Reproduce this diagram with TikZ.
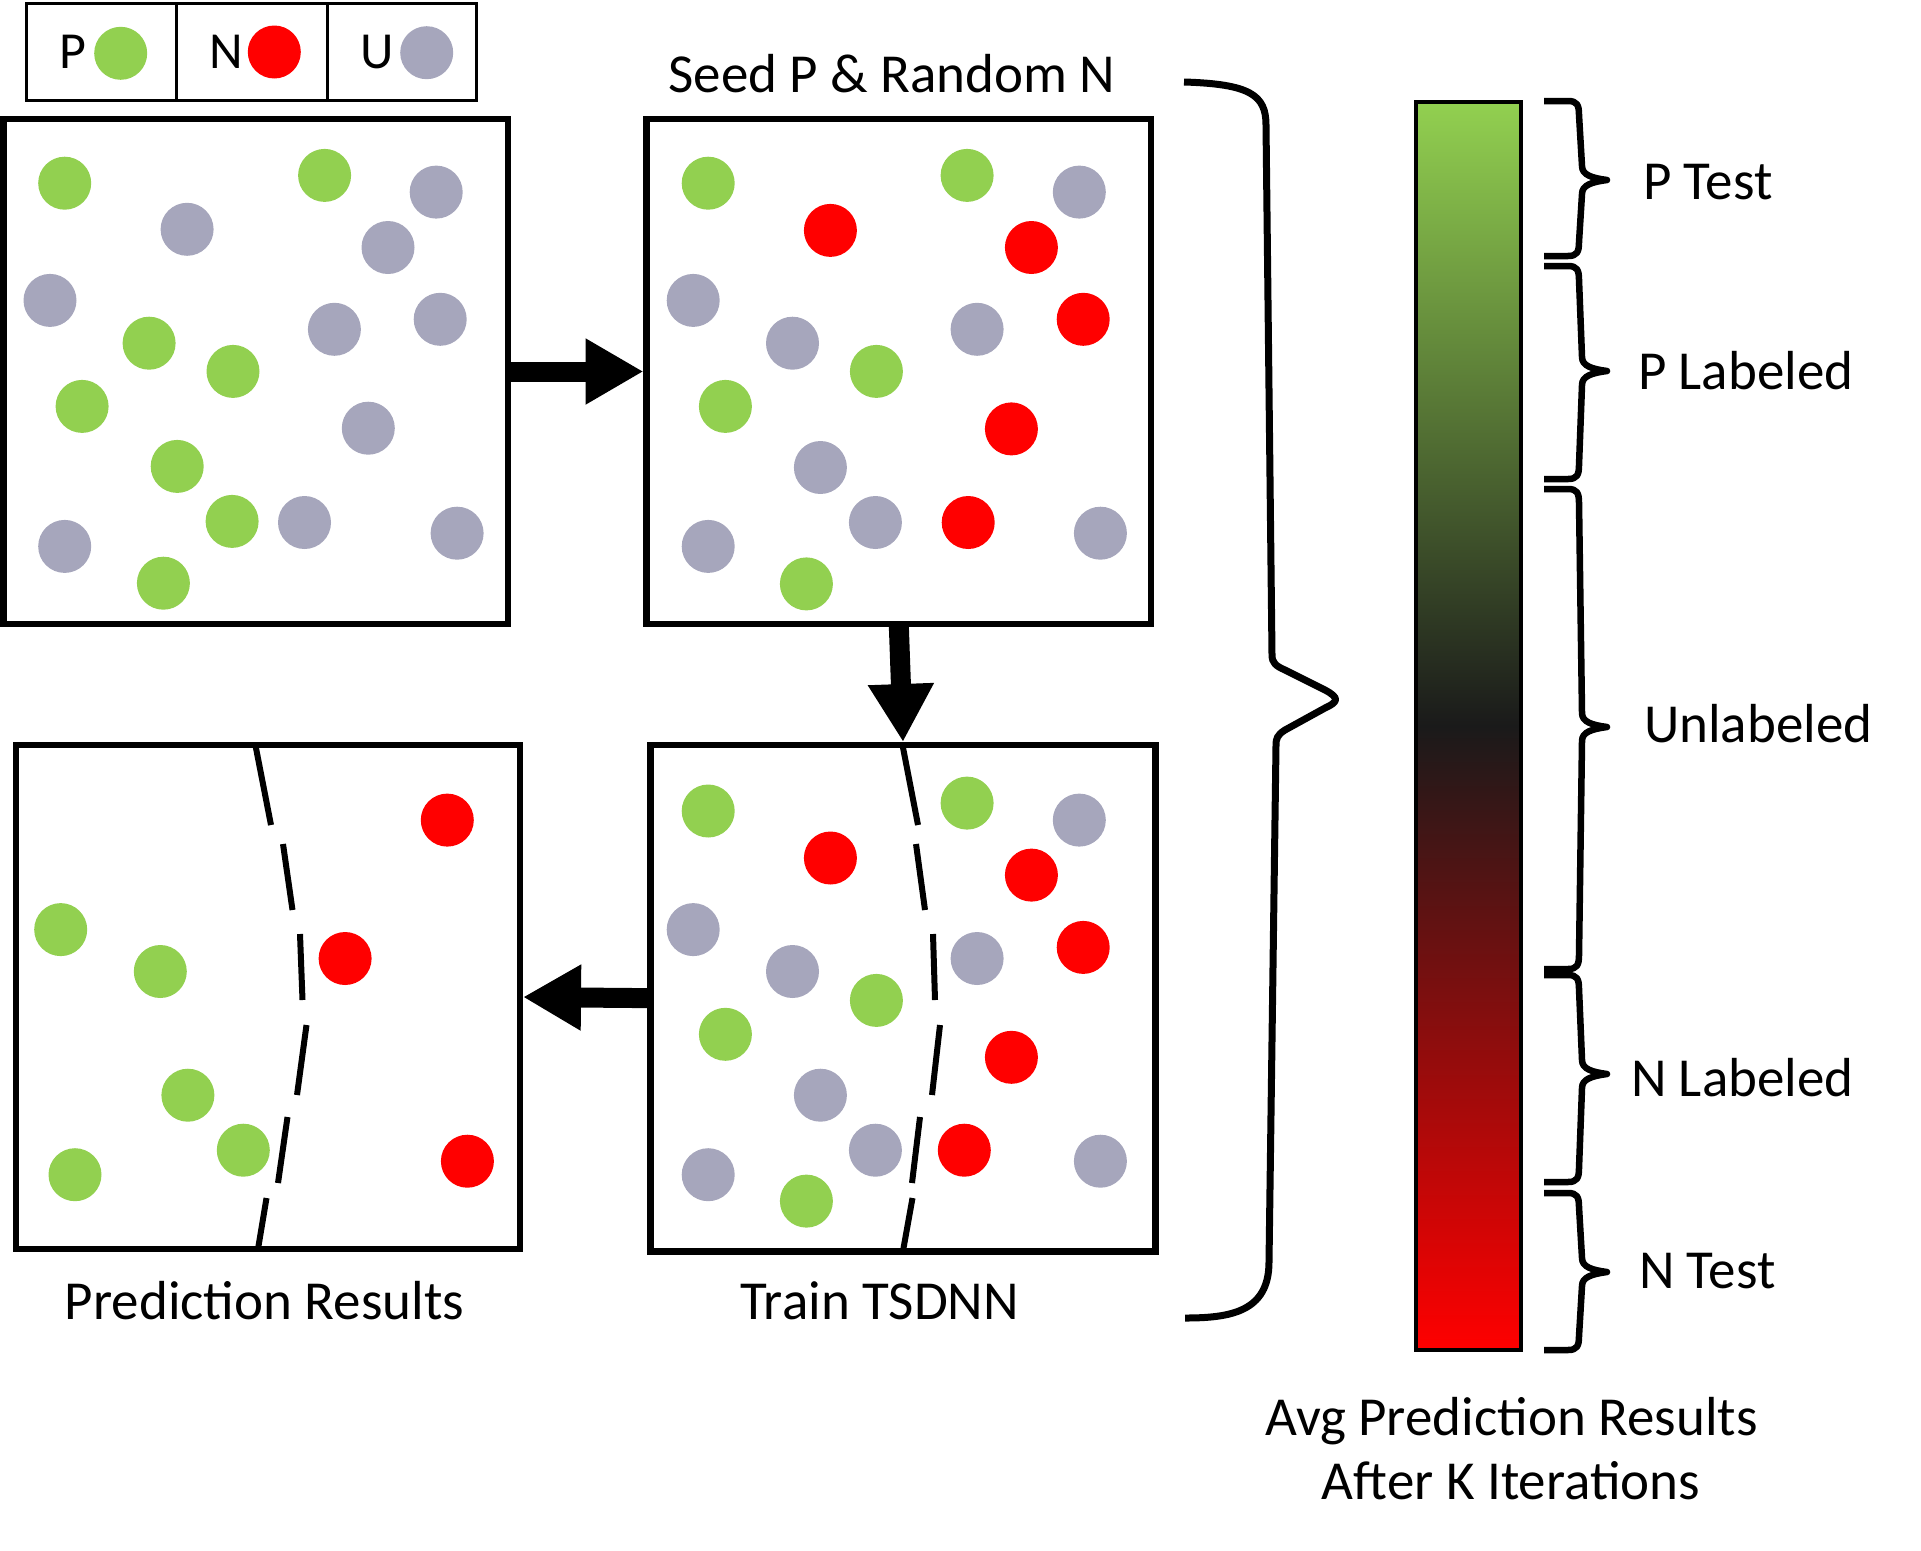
\documentclass[tikz,border=0pt]{standalone}
\usepackage{fontspec}
\setmainfont{Carlito}
\usetikzlibrary{arrows.meta}
\definecolor{Pg}{RGB}{146,208,80}
\definecolor{Nr}{RGB}{255,0,0}
\definecolor{Ug}{RGB}{166,166,188}
\definecolor{Mid}{RGB}{26,26,26}
\begin{document}
\begin{tikzpicture}[x=1pt,y=-1pt,
  box/.style={draw, line width=6.5pt, rectangle, inner sep=0pt, outer sep=0pt, minimum width=504.5pt, minimum height=505pt},
  lcell/.style={draw, line width=3pt, rectangle, inner sep=0pt, outer sep=0pt, minimum height=97pt},
  dot/.style={circle, inner sep=0pt, outer sep=0pt, minimum size=53pt},
  bigarrow/.style={line width=20pt, -{Triangle[length=58pt,width=62pt]}, shorten >=3pt},
  lbl/.style={inner sep=0pt, outer sep=0pt, anchor=base, font=\fontsize{55}{64}\selectfont},
  sepline/.style={line width=6pt},
  bigbrace/.style={line width=7pt, line join=round},
  sbrace/.style={line width=6.5pt, line join=round}
]
\useasboundingbox (0,0) rectangle (1921,1550);

% legend
\node[lcell, minimum width=149.5pt] (lc1) at (101.25,51.5) {};
\node[lcell, minimum width=151pt] (lc2) at (251.5,51.5) {};
\node[lcell, minimum width=149pt] (lc3) at (401.5,51.5) {};
\node[lbl, font=\fontsize{52}{60}\selectfont] (lp) at (73.3,68.3) {P};
\node[lbl, font=\fontsize{52}{60}\selectfont] (ln) at (226.7,68.3) {N};
\node[lbl, font=\fontsize{52}{60}\selectfont] (lu) at (377.3,68.3) {U};
\node[dot, fill=Pg] (ldp) at (120.7,53.3) {};
\node[dot, fill=Nr] (ldn) at (274.3,52) {};
\node[dot, fill=Ug] (ldu) at (426.7,52.7) {};

% boxes
\node[box] (box1) at (255.75,371.5) {};
\node[box] (box2) at (898.75,371.5) {};
\node[box, minimum width=504pt, minimum height=504pt] (box3) at (268,997) {};
\node[box, minimum width=504.8pt, minimum height=506.3pt] (box4) at (903.1,998.15) {};

% dots box 1
\foreach \c/\x/\y [count=\i] in {Pg/64.7/183.2, Pg/324.6/175.4, Ug/436.2/192.1, Ug/187.1/229.3, Ug/388/247.5, Ug/50/300.4, Pg/149.1/343.2, Pg/233/371.4, Ug/334.4/329.3, Ug/440.2/319.3, Pg/82.1/406.4, Ug/368.3/428.2, Pg/177.2/466.4, Pg/232.1/521.4, Ug/304.5/522.5, Ug/457.1/533.2, Ug/64.7/546.4, Pg/163.4/583.2}
  \node[dot, fill=\c] (ba\i) at (\x,\y) {};

% dots box 2
\foreach \c/\x/\y [count=\i] in {Pg/708.2/183.2, Nr/830.4/230.4, Pg/967.1/175.4, Ug/1079.3/192.1, Nr/1031.4/247.5, Ug/693.2/300.4, Ug/792.5/343.2, Pg/876.4/371.4, Ug/977.1/329.3, Nr/1083.2/319.3, Pg/725.4/406.4, Nr/1011.4/428.9, Ug/820.4/467.5, Ug/875.4/522.5, Nr/968.2/522.5, Ug/1100.4/533.2, Ug/708.2/546.4, Pg/806.4/583.9}
  \node[dot, fill=\c] (bb\i) at (\x,\y) {};

% dots box 4
\foreach \c/\x/\y [count=\i] in {Pg/708.2/811, Nr/830.4/858, Pg/967.1/803.1, Ug/1079.3/820.1, Nr/1031.4/875.1, Ug/693.2/929.6, Ug/792.5/971.5, Pg/876.4/1000.4, Ug/977.1/958.5, Nr/1083.2/947.4, Pg/725.4/1034.3, Nr/1011.4/1057.3, Ug/820.4/1095.2, Ug/875.4/1150.2, Nr/964.3/1150.2, Ug/1100.4/1161.2, Ug/708.2/1174.7, Pg/806.4/1201.1}
  \node[dot, fill=\c] (bd\i) at (\x,\y) {};

% dots box 3
\foreach \c/\x/\y [count=\i] in {Nr/447.3/820.1, Pg/60.7/929.6, Pg/160.3/971.5, Nr/345.1/958.5, Pg/187.9/1095.2, Pg/243.3/1150.2, Pg/75/1174.7, Nr/467.4/1161.2}
  \node[dot, fill=\c] (bc\i) at (\x,\y) {};

% separating lines (straight dashes)
\foreach \xa/\ya/\xb/\yb in {255.4/745/271/825, 283/844/292.5/910, 300/934/302.5/1000, 306.5/1025/297/1095, 287.5/1117/278/1183, 266.5/1198/258/1249,
  902.5/745/918/825, 916/844/925/910, 933/934/935/1000, 940/1025/932/1095, 920/1117/912/1183, 912.5/1198/903/1251}
  \draw[sepline] (\xa,\ya) -- (\xb,\yb);

% arrows
\draw[bigarrow] (box1.east) -- (box2.west);
\draw[bigarrow] (box2.south) -- (box4.north);
\draw[bigarrow] (box4.west) -- (box3.east);

% texts
\node[lbl] (ttl) at (892,92.7) {Seed P \& Random N};
\node[lbl] (t3) at (264.5,1319) {Prediction Results};
\node[lbl] (t4) at (879.8,1319) {Train TSDNN};

% big brace
\draw[bigbrace] (1184,82) .. controls (1250,84) and (1266,95) .. (1266,125)
  -- (1272,655) .. controls (1272,663) and (1276,666) .. (1285,670)
  -- (1325,690) .. controls (1340,698) and (1338,702) .. (1325,708)
  -- (1285,730) .. controls (1277,735) and (1276,739) .. (1276,745)
  -- (1269,1262) .. controls (1269,1312) and (1230,1318) .. (1185,1318);

% colour bar
\node[draw, line width=4.5pt, rectangle, inner sep=0pt, outer sep=0pt, minimum width=105pt, minimum height=1248pt, top color=Pg, bottom color=Nr, middle color=Mid] (cbar) at (1468.5,726) {};

% small braces
\foreach \a/\t/\b in {101/180/256, 266/371/479, 489/727/969, 975/1074/1182, 1193/1272/1350}
  \draw[sbrace] (1544,\a) -- (1568,\a) .. controls (1577,\a) and (1579,\a+4) .. (1579,\a+14)
    -- (1582,\t-14) .. controls (1582,\t-5) and (1592,\t-2) .. (1607,\t)
    .. controls (1592,\t+2) and (1582,\t+5) .. (1582,\t+14)
    -- (1579,\b-14) .. controls (1579,\b-4) and (1577,\b) .. (1568,\b) -- (1544,\b);

\node[lbl, anchor=base west] (lb1) at (1643,199) {P Test};
\node[lbl, anchor=base west] (lb2) at (1638,389) {P Labeled};
\node[lbl, anchor=base west] (lb3) at (1644,742) {Unlabeled};
\node[lbl, anchor=base west] (lb4) at (1631,1096) {N Labeled};
\node[lbl, anchor=base west] (lb5) at (1639,1288) {N Test};
\node[lbl] (av1) at (1511.5,1435.5) {Avg Prediction Results};
\node[lbl] (av2) at (1511,1499.5) {After K Iterations};
\end{tikzpicture}
\end{document}
